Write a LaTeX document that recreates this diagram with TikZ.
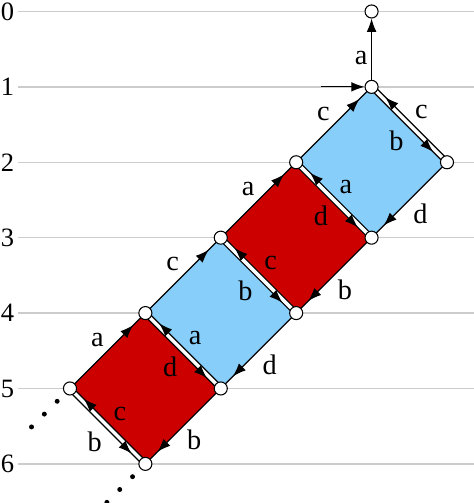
\documentclass[tikz,border=0pt]{standalone}
\usepackage{fontspec}
\setmainfont{Liberation Serif}
\usepackage{tikz}
\usetikzlibrary{arrows.meta,calc,positioning,backgrounds,decorations.markings}

\definecolor{skyfill}{RGB}{135,206,250}
\definecolor{redfill}{RGB}{205,0,0}

\begin{document}
\begin{tikzpicture}
	[x=1.5cm,y=-1.5cm,on grid,
	vertex/.style={circle,draw,fill=white,line width=0.6pt,minimum size=7.4pt,inner sep=0pt},
	side/.style={line width=0.65pt,postaction={decorate},
		decoration={markings,mark=at position 0.84 with {\arrow{Latex[length=7.5pt,width=5.5pt]}}}},
	arr/.style={line width=0.65pt,-{Latex[length=7.5pt,width=5.5pt]}},
	lab/.style={font=\fontsize{16}{18}\selectfont,inner sep=2pt},
	levellab/.style={font=\fontsize{15}{18}\selectfont,inner sep=2pt,anchor=east},
	level/.style={draw=black!20,line width=0.8pt},
	gap/.style={draw=white,line width=2.8pt},
	]
	\useasboundingbox (-0.928,-0.152) rectangle (5.358,6.519);
	% vertices of the strip
	\node[vertex] (n1) at (4,1) {};
	\node[vertex,above=1.5cm of n1] (n0) {};
	\node[vertex,below right=1.5cm and 1.5cm of n1] (n2r) {};
	\node[vertex,below left=1.5cm and 1.5cm of n1] (n2l) {};
	\node[vertex,below right=1.5cm and 1.5cm of n2l] (n3r) {};
	\node[vertex,below left=1.5cm and 1.5cm of n2l] (n3l) {};
	\node[vertex,below right=1.5cm and 1.5cm of n3l] (n4r) {};
	\node[vertex,below left=1.5cm and 1.5cm of n3l] (n4l) {};
	\node[vertex,below right=1.5cm and 1.5cm of n4l] (n5r) {};
	\node[vertex,below left=1.5cm and 1.5cm of n4l] (n5l) {};
	\node[vertex,below right=1.5cm and 1.5cm of n5l] (n6) {};
	\coordinate (in1) at (3.33,1);

	\begin{scope}[on background layer]
		% levels
		\foreach \n in {0,...,6} {
			\node[levellab] (lv\n) at (-0.69,\n) {\n};
			\draw[level] (lv\n.east) -- (5.36,\n);
		}
		% squares
		\fill[skyfill] (n1.center) -- (n2r.center) -- (n3r.center) -- (n2l.center) -- cycle;
		\fill[redfill] (n2l.center) -- (n3r.center) -- (n4r.center) -- (n3l.center) -- cycle;
		\fill[skyfill] (n3l.center) -- (n4r.center) -- (n5r.center) -- (n4l.center) -- cycle;
		\fill[redfill] (n4l.center) -- (n5r.center) -- (n6.center) -- (n5l.center) -- cycle;
		\foreach \from/\to in {n1/n2r,n2l/n3r,n3l/n4r,n4l/n5r,n5l/n6}
			\draw[gap] (\from.center) -- (\to.center);
		% outer sides
		\foreach \from/\to/\txt in {n2l/n1/c,n3l/n2l/a,n4l/n3l/c,n5l/n4l/a}
			\draw[side] (\from.center) -- node[lab,above left] {\txt} (\to.center);
		\foreach \from/\to/\txt in {n2r/n3r/d,n3r/n4r/b,n4r/n5r/d,n5r/n6/b}
			\draw[side] (\from.center) -- node[lab,below right] {\txt} (\to.center);
		% glued sides, drawn twice
		\foreach \from/\to/\txt in {n2r/n1/c,n3r/n2l/a,n4r/n3l/c,n5r/n4l/a,n6/n5l/c}
			\draw[side] ([shift={(45:1.4pt)}]\from.center) -- node[lab,above right] {\txt} ([shift={(45:1.4pt)}]\to.center);
		\foreach \from/\to/\txt in {n1/n2r/b,n2l/n3r/d,n3l/n4r/b,n4l/n5r/d,n5l/n6/b}
			\draw[side] ([shift={(225:1.4pt)}]\from.center) -- node[lab,below left] {\txt} ([shift={(225:1.4pt)}]\to.center);
	\end{scope}

	\draw[arr] (n1) -- node[lab,left,pos=0.35] {a} (n0);
	\draw[arr] (in1) -- (n1);
	% continuation dots
	\foreach \t in {0.17,0.34,0.51} {
		\fill ($(n5l)+(-\t,\t)$) circle (1.4pt);
		\fill ($(n6)+(-\t,\t)$) circle (1.4pt);
	}
\end{tikzpicture}
\end{document}
